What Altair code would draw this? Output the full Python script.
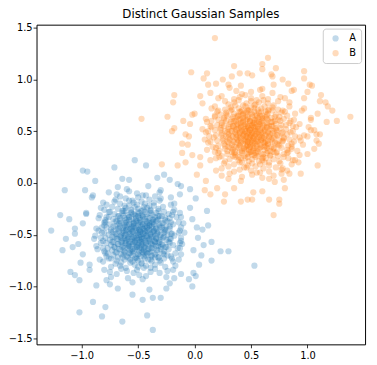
import altair as alt
import pandas as pd

# ---- data ----
# Cluster A core, by horizontal bands: (x values, y values)
a_bands = [
    ([-0.78, -0.55, -0.46, -0.22], [-0.94, -0.96, -0.93, -0.97]),
    ([-0.74, -0.69, -0.59, -0.49, -0.43, -0.31, -0.25], [-0.91, -0.88, -0.92, -0.89, -0.90, -0.87, -0.91]),
    ([-0.80, -0.75, -0.65, -0.60, -0.54, -0.51, -0.45, -0.39, -0.35, -0.24, -0.19],
     [-0.84, -0.86, -0.83, -0.85, -0.87, -0.84, -0.82, -0.86, -0.83, -0.85, -0.84]),
    ([-0.93, -0.74, -0.70, -0.66, -0.61, -0.57, -0.53, -0.50, -0.47, -0.43, -0.39, -0.35, -0.30, -0.26, -0.17],
     [-0.79, -0.81, -0.78, -0.80, -0.82, -0.77, -0.79, -0.81, -0.78, -0.80, -0.82, -0.79, -0.77, -0.81, -0.80]),
    ([-0.84, -0.81, -0.74, -0.69, -0.65, -0.62, -0.59, -0.55, -0.53, -0.50, -0.47, -0.44, -0.41, -0.38, -0.35, -0.31, -0.27, -0.19, -0.14],
     [-0.74, -0.76, -0.73, -0.75, -0.77, -0.74, -0.72, -0.76, -0.73, -0.75, -0.77, -0.73, -0.74, -0.76, -0.72, -0.75, -0.73, -0.76, -0.74]),
    ([-0.99, -0.78, -0.77, -0.72, -0.68, -0.65, -0.62, -0.60, -0.57, -0.55, -0.52, -0.50, -0.48, -0.45, -0.43, -0.40, -0.38, -0.35, -0.32, -0.28, -0.24, -0.21, -0.12],
     [-0.69, -0.71, -0.68, -0.70, -0.72, -0.69, -0.67, -0.71, -0.68, -0.70, -0.72, -0.69, -0.71, -0.68, -0.70, -0.67, -0.71, -0.69, -0.72, -0.68, -0.70, -0.71, -0.69]),
    ([-0.86, -0.80, -0.77, -0.73, -0.70, -0.67, -0.64, -0.62, -0.59, -0.57, -0.55, -0.53, -0.51, -0.49, -0.47, -0.45, -0.43, -0.41, -0.38, -0.36, -0.33, -0.30, -0.27, -0.23, -0.13, -0.01],
     [-0.64, -0.66, -0.63, -0.65, -0.67, -0.64, -0.62, -0.66, -0.63, -0.65, -0.67, -0.64, -0.62, -0.66, -0.63, -0.65, -0.67, -0.64, -0.66, -0.63, -0.65, -0.62, -0.66, -0.64, -0.63, -0.65]),
    ([-1.03, -0.87, -0.78, -0.74, -0.71, -0.68, -0.65, -0.63, -0.61, -0.59, -0.57, -0.55, -0.53, -0.51, -0.49, -0.47, -0.45, -0.43, -0.41, -0.39, -0.37, -0.35, -0.32, -0.29, -0.26, -0.22, -0.19, -0.11],
     [-0.59, -0.61, -0.58, -0.60, -0.62, -0.59, -0.57, -0.61, -0.58, -0.60, -0.62, -0.59, -0.57, -0.61, -0.58, -0.60, -0.62, -0.59, -0.61, -0.58, -0.60, -0.57, -0.61, -0.59, -0.62, -0.58, -0.60, -0.59]),
    ([-0.89, -0.81, -0.79, -0.75, -0.72, -0.69, -0.66, -0.64, -0.62, -0.60, -0.58, -0.56, -0.54, -0.53, -0.51, -0.49, -0.47, -0.46, -0.44, -0.42, -0.40, -0.38, -0.36, -0.34, -0.31, -0.28, -0.25, -0.21, -0.12, 0.03],
     [-0.54, -0.56, -0.53, -0.55, -0.57, -0.54, -0.52, -0.56, -0.53, -0.55, -0.57, -0.54, -0.52, -0.56, -0.53, -0.55, -0.57, -0.54, -0.56, -0.53, -0.55, -0.52, -0.56, -0.54, -0.57, -0.53, -0.55, -0.54, -0.56, -0.53]),
    ([-1.06, -0.88, -0.80, -0.76, -0.71, -0.70, -0.67, -0.65, -0.63, -0.61, -0.59, -0.57, -0.55, -0.52, -0.50, -0.48, -0.47, -0.45, -0.43, -0.41, -0.39, -0.37, -0.35, -0.33, -0.30, -0.27, -0.24, -0.20, -0.18, -0.09],
     [-0.49, -0.51, -0.48, -0.50, -0.52, -0.49, -0.47, -0.51, -0.48, -0.50, -0.52, -0.49, -0.47, -0.51, -0.48, -0.50, -0.52, -0.49, -0.51, -0.48, -0.50, -0.47, -0.51, -0.49, -0.52, -0.48, -0.50, -0.49, -0.51, -0.48]),
    ([-0.87, -0.85, -0.78, -0.74, -0.72, -0.68, -0.66, -0.63, -0.61, -0.60, -0.58, -0.56, -0.55, -0.52, -0.51, -0.49, -0.48, -0.46, -0.44, -0.42, -0.40, -0.38, -0.36, -0.34, -0.32, -0.29, -0.26, -0.22, -0.13, 0.02],
     [-0.44, -0.46, -0.43, -0.45, -0.47, -0.44, -0.42, -0.46, -0.43, -0.45, -0.47, -0.44, -0.42, -0.46, -0.43, -0.45, -0.47, -0.44, -0.46, -0.43, -0.45, -0.42, -0.46, -0.44, -0.47, -0.43, -0.45, -0.44, -0.46, -0.43]),
    ([-0.99, -0.80, -0.79, -0.75, -0.70, -0.67, -0.66, -0.62, -0.60, -0.58, -0.56, -0.54, -0.52, -0.50, -0.48, -0.46, -0.44, -0.42, -0.40, -0.38, -0.36, -0.34, -0.31, -0.28, -0.25, -0.21, -0.19, -0.10],
     [-0.39, -0.41, -0.38, -0.40, -0.42, -0.39, -0.37, -0.41, -0.38, -0.40, -0.42, -0.39, -0.37, -0.41, -0.38, -0.40, -0.42, -0.39, -0.41, -0.38, -0.40, -0.37, -0.41, -0.39, -0.42, -0.38, -0.40, -0.39]),
    ([-0.85, -0.79, -0.76, -0.72, -0.69, -0.66, -0.63, -0.61, -0.58, -0.56, -0.54, -0.52, -0.50, -0.48, -0.46, -0.44, -0.42, -0.40, -0.37, -0.35, -0.32, -0.29, -0.26, -0.22, -0.12, -0.02],
     [-0.34, -0.36, -0.33, -0.35, -0.37, -0.34, -0.32, -0.36, -0.33, -0.35, -0.37, -0.34, -0.32, -0.36, -0.33, -0.35, -0.37, -0.34, -0.36, -0.33, -0.35, -0.32, -0.36, -0.34, -0.33, -0.35]),
    ([-0.96, -0.84, -0.76, -0.71, -0.67, -0.64, -0.61, -0.59, -0.56, -0.54, -0.52, -0.49, -0.47, -0.44, -0.42, -0.39, -0.37, -0.34, -0.31, -0.27, -0.23, -0.20, -0.13],
     [-0.29, -0.31, -0.28, -0.30, -0.32, -0.29, -0.27, -0.31, -0.28, -0.30, -0.32, -0.29, -0.31, -0.28, -0.30, -0.27, -0.31, -0.29, -0.32, -0.28, -0.30, -0.31, -0.29]),
    ([-0.83, -0.80, -0.73, -0.68, -0.64, -0.61, -0.58, -0.56, -0.53, -0.50, -0.47, -0.45, -0.42, -0.39, -0.36, -0.32, -0.28, -0.18, -0.04],
     [-0.24, -0.26, -0.23, -0.25, -0.27, -0.24, -0.22, -0.26, -0.23, -0.25, -0.27, -0.23, -0.24, -0.26, -0.22, -0.25, -0.23, -0.26, -0.24]),
    ([-0.81, -0.78, -0.71, -0.66, -0.62, -0.58, -0.54, -0.51, -0.47, -0.44, -0.40, -0.36, -0.31, -0.21, -0.18],
     [-0.19, -0.21, -0.18, -0.20, -0.22, -0.17, -0.19, -0.21, -0.18, -0.20, -0.22, -0.19, -0.17, -0.21, -0.20]),
    ([-0.91, -0.70, -0.66, -0.61, -0.55, -0.50, -0.46, -0.40, -0.35, -0.30, -0.21],
     [-0.14, -0.16, -0.13, -0.15, -0.17, -0.14, -0.12, -0.16, -0.13, -0.15, -0.14]),
    ([-0.76, -0.69, -0.58, -0.51, -0.43, -0.31, -0.13], [-0.09, -0.11, -0.08, -0.10, -0.12, -0.09, -0.11]),
    ([-0.68, -0.60, -0.41, -0.30], [-0.04, -0.06, -0.03, -0.07]),
]

# Cluster A dense centre, by bands
a_inner = [
    ([-0.76, -0.64, -0.57, -0.51, -0.45, -0.39, -0.32, -0.20], [-0.73, -0.72, -0.74, -0.73, -0.71, -0.74, -0.72, -0.73]),
    ([-0.79, -0.69, -0.63, -0.58, -0.54, -0.50, -0.46, -0.42, -0.38, -0.33, -0.27, -0.17],
     [-0.68, -0.67, -0.69, -0.68, -0.66, -0.69, -0.67, -0.68, -0.70, -0.67, -0.69, -0.68]),
    ([-0.81, -0.71, -0.66, -0.62, -0.58, -0.55, -0.52, -0.49, -0.47, -0.44, -0.41, -0.38, -0.34, -0.30, -0.25, -0.15],
     [-0.63, -0.62, -0.64, -0.63, -0.61, -0.64, -0.62, -0.63, -0.65, -0.62, -0.64, -0.63, -0.61, -0.64, -0.62, -0.63]),
    ([-0.83, -0.73, -0.68, -0.64, -0.61, -0.58, -0.55, -0.53, -0.50, -0.48, -0.46, -0.43, -0.41, -0.38, -0.35, -0.32, -0.28, -0.23, -0.13],
     [-0.58, -0.57, -0.59, -0.58, -0.56, -0.59, -0.57, -0.58, -0.60, -0.57, -0.59, -0.58, -0.56, -0.59, -0.57, -0.58, -0.60, -0.57, -0.58]),
    ([-0.83, -0.73, -0.68, -0.65, -0.62, -0.59, -0.56, -0.54, -0.51, -0.49, -0.47, -0.45, -0.42, -0.40, -0.37, -0.34, -0.31, -0.27, -0.22, -0.12],
     [-0.53, -0.52, -0.54, -0.53, -0.51, -0.54, -0.52, -0.53, -0.55, -0.52, -0.54, -0.53, -0.51, -0.54, -0.52, -0.53, -0.55, -0.52, -0.54, -0.53]),
    ([-0.82, -0.74, -0.69, -0.64, -0.61, -0.58, -0.55, -0.53, -0.50, -0.48, -0.46, -0.44, -0.42, -0.39, -0.36, -0.33, -0.30, -0.26, -0.21, -0.14],
     [-0.48, -0.47, -0.49, -0.48, -0.46, -0.49, -0.47, -0.48, -0.50, -0.47, -0.49, -0.48, -0.46, -0.49, -0.47, -0.48, -0.50, -0.47, -0.49, -0.48]),
    ([-0.82, -0.72, -0.67, -0.63, -0.60, -0.57, -0.54, -0.52, -0.49, -0.47, -0.45, -0.42, -0.40, -0.37, -0.34, -0.31, -0.27, -0.22, -0.12],
     [-0.43, -0.42, -0.44, -0.43, -0.41, -0.44, -0.42, -0.43, -0.45, -0.42, -0.44, -0.43, -0.41, -0.44, -0.42, -0.43, -0.45, -0.42, -0.43]),
    ([-0.80, -0.70, -0.65, -0.61, -0.58, -0.54, -0.51, -0.49, -0.46, -0.43, -0.40, -0.37, -0.33, -0.29, -0.24, -0.14],
     [-0.38, -0.37, -0.39, -0.38, -0.36, -0.39, -0.37, -0.38, -0.40, -0.37, -0.39, -0.38, -0.36, -0.39, -0.37, -0.38]),
    ([-0.78, -0.68, -0.62, -0.58, -0.53, -0.49, -0.46, -0.42, -0.37, -0.32, -0.26, -0.16],
     [-0.33, -0.32, -0.34, -0.33, -0.31, -0.34, -0.32, -0.33, -0.35, -0.32, -0.34, -0.33]),
    ([-0.75, -0.63, -0.56, -0.50, -0.45, -0.39, -0.32, -0.19], [-0.28, -0.27, -0.29, -0.28, -0.26, -0.29, -0.27, -0.28]),
]

# Cluster A scattered outer points
a_tail = [
    (-1.27, -0.46), (-1.19, -0.31), (-1.15, -0.07), (-1.17, -0.65), (-0.99, 0.12), (-0.95, 0.11),
    (-0.88, 0.02), (-0.97, -0.07), (-0.71, 0.15), (-0.53, 0.22), (-0.43, 0.17), (-1.02, -1.25),
    (-0.90, -1.15), (-0.79, -1.20), (-0.82, -1.29), (-0.64, -1.34), (-0.42, -1.28), (-0.37, -1.42),
    (-0.46, -1.13), (-0.37, -1.11), (-0.30, -1.11), (0.53, -0.80), (0.23, -0.66), (0.30, -0.66),
    (0.15, -0.75), (0.15, -0.57), (0.11, -0.27), (0.04, -0.79), (-0.02, -1.00), (0.01, -0.90),
    (-0.01, -0.87), (-0.04, -0.06), (0.01, -0.15), (-0.15, -0.01), (-0.27, 0.08), (-1.10, -0.86),
    (-1.06, -0.89), (-1.02, -0.94), (-1.01, -0.77), (-1.14, -0.54), (-1.11, -0.35), (-0.64, 0.04),
    (-0.58, 0.03), (-0.33, 0.05), (-0.22, 0.03), (-0.12, -0.03), (0.12, -0.41), (0.07, -0.45),
    (-0.05, -0.93), (-0.25, -1.02), (-0.55, -1.08), (-0.68, -1.02), (-0.75, -0.98), (-0.87, -0.99),
    (-0.93, -0.84), (-1.08, -0.62), (-1.06, -0.44), (-0.96, -0.30), (-0.90, -0.12), (0.08, -0.60),
    (0.06, -0.70), (-0.18, -0.92), (-0.40, -1.03), (-0.12, -0.88),
]

# Cluster B core, by horizontal bands: (x values, y values)
b_bands = [
    ([0.30, 0.41, 0.60, 0.71], [0.04, 0.02, 0.05, 0.01]),
    ([0.24, 0.31, 0.42, 0.51, 0.58, 0.70, 0.77], [0.07, 0.09, 0.06, 0.08, 0.10, 0.07, 0.09]),
    ([0.19, 0.24, 0.35, 0.40, 0.46, 0.50, 0.55, 0.61, 0.66, 0.77, 0.82],
     [0.12, 0.14, 0.11, 0.13, 0.15, 0.12, 0.10, 0.14, 0.11, 0.13, 0.12]),
    ([0.05, 0.26, 0.30, 0.35, 0.40, 0.44, 0.47, 0.51, 0.54, 0.58, 0.62, 0.66, 0.72, 0.76, 0.86],
     [0.17, 0.19, 0.16, 0.18, 0.20, 0.15, 0.17, 0.19, 0.16, 0.18, 0.20, 0.17, 0.15, 0.19, 0.18]),
    ([0.14, 0.19, 0.27, 0.31, 0.36, 0.39, 0.42, 0.45, 0.48, 0.51, 0.54, 0.57, 0.60, 0.63, 0.66, 0.70, 0.75, 0.83, 0.89],
     [0.22, 0.24, 0.21, 0.23, 0.25, 0.22, 0.20, 0.24, 0.21, 0.23, 0.25, 0.21, 0.22, 0.24, 0.20, 0.23, 0.21, 0.24, 0.22]),
    ([-0.02, 0.21, 0.24, 0.29, 0.33, 0.36, 0.39, 0.42, 0.44, 0.47, 0.49, 0.51, 0.54, 0.56, 0.59, 0.61, 0.64, 0.67, 0.70, 0.74, 0.79, 0.82, 0.93],
     [0.27, 0.29, 0.26, 0.28, 0.30, 0.27, 0.25, 0.29, 0.26, 0.28, 0.30, 0.27, 0.29, 0.26, 0.28, 0.25, 0.29, 0.27, 0.30, 0.26, 0.28, 0.29, 0.27]),
    ([0.11, 0.19, 0.22, 0.27, 0.30, 0.34, 0.36, 0.39, 0.42, 0.44, 0.46, 0.48, 0.50, 0.53, 0.55, 0.57, 0.59, 0.62, 0.64, 0.67, 0.70, 0.73, 0.77, 0.82, 0.91, 1.06],
     [0.32, 0.34, 0.31, 0.33, 0.35, 0.32, 0.30, 0.34, 0.31, 0.33, 0.35, 0.32, 0.30, 0.34, 0.31, 0.33, 0.35, 0.32, 0.34, 0.31, 0.33, 0.30, 0.34, 0.32, 0.31, 0.33]),
    ([-0.06, 0.12, 0.21, 0.26, 0.29, 0.33, 0.35, 0.38, 0.40, 0.43, 0.45, 0.47, 0.49, 0.51, 0.52, 0.54, 0.56, 0.58, 0.61, 0.63, 0.65, 0.68, 0.71, 0.74, 0.78, 0.83, 0.86, 0.96],
     [0.37, 0.39, 0.36, 0.38, 0.40, 0.37, 0.35, 0.39, 0.36, 0.38, 0.40, 0.37, 0.35, 0.39, 0.36, 0.38, 0.40, 0.37, 0.39, 0.36, 0.38, 0.35, 0.39, 0.37, 0.40, 0.36, 0.38, 0.37]),
    ([0.09, 0.17, 0.20, 0.25, 0.28, 0.31, 0.34, 0.37, 0.39, 0.41, 0.43, 0.45, 0.47, 0.49, 0.50, 0.52, 0.53, 0.55, 0.57, 0.59, 0.61, 0.63, 0.66, 0.68, 0.71, 0.75, 0.79, 0.84, 0.93, 1.08],
     [0.42, 0.44, 0.41, 0.43, 0.45, 0.42, 0.40, 0.44, 0.41, 0.43, 0.45, 0.42, 0.40, 0.44, 0.41, 0.43, 0.45, 0.42, 0.44, 0.41, 0.43, 0.40, 0.44, 0.42, 0.45, 0.41, 0.43, 0.42, 0.44, 0.41]),
    ([-0.08, 0.10, 0.19, 0.24, 0.27, 0.30, 0.33, 0.36, 0.38, 0.40, 0.42, 0.44, 0.46, 0.48, 0.49, 0.51, 0.53, 0.54, 0.56, 0.58, 0.60, 0.62, 0.65, 0.67, 0.70, 0.73, 0.77, 0.82, 0.85, 0.97],
     [0.47, 0.49, 0.46, 0.48, 0.50, 0.47, 0.45, 0.49, 0.46, 0.48, 0.50, 0.47, 0.45, 0.49, 0.46, 0.48, 0.50, 0.47, 0.49, 0.46, 0.48, 0.45, 0.49, 0.47, 0.50, 0.46, 0.48, 0.47, 0.49, 0.46]),
    ([0.07, 0.15, 0.18, 0.23, 0.26, 0.30, 0.32, 0.35, 0.37, 0.39, 0.41, 0.44, 0.45, 0.47, 0.49, 0.50, 0.52, 0.54, 0.56, 0.58, 0.60, 0.62, 0.64, 0.67, 0.69, 0.72, 0.76, 0.81, 0.90, 1.06],
     [0.52, 0.54, 0.51, 0.53, 0.55, 0.52, 0.50, 0.54, 0.51, 0.53, 0.55, 0.52, 0.50, 0.54, 0.51, 0.53, 0.55, 0.52, 0.54, 0.51, 0.53, 0.50, 0.54, 0.52, 0.55, 0.51, 0.53, 0.52, 0.54, 0.51]),
    ([-0.04, 0.11, 0.20, 0.24, 0.28, 0.31, 0.34, 0.37, 0.39, 0.41, 0.43, 0.45, 0.47, 0.49, 0.51, 0.53, 0.55, 0.57, 0.59, 0.61, 0.64, 0.66, 0.69, 0.72, 0.76, 0.81, 0.84, 0.93],
     [0.57, 0.59, 0.56, 0.58, 0.60, 0.57, 0.55, 0.59, 0.56, 0.58, 0.60, 0.57, 0.55, 0.59, 0.56, 0.58, 0.60, 0.57, 0.59, 0.56, 0.58, 0.55, 0.59, 0.57, 0.60, 0.56, 0.58, 0.57]),
    ([0.10, 0.18, 0.21, 0.26, 0.29, 0.33, 0.35, 0.38, 0.41, 0.43, 0.45, 0.47, 0.49, 0.51, 0.53, 0.56, 0.58, 0.60, 0.63, 0.65, 0.68, 0.71, 0.75, 0.79, 0.88, 1.03],
     [0.62, 0.64, 0.61, 0.63, 0.65, 0.62, 0.60, 0.64, 0.61, 0.63, 0.65, 0.62, 0.60, 0.64, 0.61, 0.63, 0.65, 0.62, 0.64, 0.61, 0.63, 0.60, 0.64, 0.62, 0.61, 0.63]),
    ([0.00, 0.20, 0.23, 0.28, 0.32, 0.35, 0.38, 0.41, 0.43, 0.46, 0.48, 0.50, 0.53, 0.55, 0.57, 0.60, 0.63, 0.65, 0.69, 0.72, 0.77, 0.80, 0.89],
     [0.67, 0.69, 0.66, 0.68, 0.70, 0.67, 0.65, 0.69, 0.66, 0.68, 0.70, 0.67, 0.69, 0.66, 0.68, 0.65, 0.69, 0.67, 0.70, 0.66, 0.68, 0.69, 0.67]),
    ([0.15, 0.18, 0.27, 0.32, 0.36, 0.39, 0.42, 0.45, 0.47, 0.50, 0.53, 0.56, 0.59, 0.62, 0.65, 0.69, 0.74, 0.84, 0.97],
     [0.72, 0.74, 0.71, 0.73, 0.75, 0.72, 0.70, 0.74, 0.71, 0.73, 0.75, 0.71, 0.72, 0.74, 0.70, 0.73, 0.71, 0.74, 0.72]),
    ([0.07, 0.27, 0.30, 0.35, 0.39, 0.43, 0.46, 0.50, 0.54, 0.57, 0.61, 0.65, 0.70, 0.74, 0.84],
     [0.77, 0.79, 0.76, 0.78, 0.80, 0.75, 0.77, 0.79, 0.76, 0.78, 0.80, 0.77, 0.75, 0.79, 0.78]),
    ([0.21, 0.24, 0.35, 0.40, 0.45, 0.50, 0.55, 0.60, 0.65, 0.76, 0.80],
     [0.82, 0.84, 0.81, 0.83, 0.85, 0.82, 0.80, 0.84, 0.81, 0.83, 0.82]),
    ([0.14, 0.37, 0.42, 0.50, 0.58, 0.69, 0.86], [0.87, 0.89, 0.86, 0.88, 0.90, 0.87, 0.89]),
    ([0.31, 0.41, 0.60, 0.70], [0.92, 0.94, 0.91, 0.95]),
]

# Cluster B dense centre, by bands
b_inner = [
    ([0.22, 0.34, 0.41, 0.47, 0.53, 0.60, 0.67, 0.79], [0.25, 0.26, 0.24, 0.25, 0.27, 0.24, 0.26, 0.25]),
    ([0.18, 0.29, 0.35, 0.40, 0.44, 0.48, 0.52, 0.56, 0.61, 0.65, 0.72, 0.83],
     [0.30, 0.31, 0.29, 0.30, 0.32, 0.29, 0.31, 0.30, 0.28, 0.31, 0.29, 0.30]),
    ([0.16, 0.27, 0.32, 0.37, 0.40, 0.44, 0.47, 0.49, 0.52, 0.55, 0.58, 0.62, 0.65, 0.70, 0.75, 0.86],
     [0.35, 0.36, 0.34, 0.35, 0.37, 0.34, 0.36, 0.35, 0.33, 0.36, 0.34, 0.35, 0.37, 0.34, 0.36, 0.35]),
    ([0.14, 0.25, 0.30, 0.35, 0.38, 0.41, 0.44, 0.47, 0.49, 0.51, 0.53, 0.56, 0.59, 0.62, 0.65, 0.69, 0.73, 0.78, 0.88],
     [0.40, 0.41, 0.39, 0.40, 0.42, 0.39, 0.41, 0.40, 0.38, 0.41, 0.39, 0.40, 0.42, 0.39, 0.41, 0.40, 0.38, 0.41, 0.40]),
    ([0.13, 0.24, 0.30, 0.34, 0.37, 0.40, 0.43, 0.46, 0.48, 0.50, 0.52, 0.55, 0.57, 0.60, 0.63, 0.66, 0.70, 0.74, 0.79, 0.89],
     [0.45, 0.46, 0.44, 0.45, 0.47, 0.44, 0.46, 0.45, 0.43, 0.46, 0.44, 0.45, 0.47, 0.44, 0.46, 0.45, 0.43, 0.46, 0.44, 0.45]),
    ([0.12, 0.23, 0.29, 0.33, 0.37, 0.40, 0.42, 0.45, 0.47, 0.49, 0.51, 0.54, 0.56, 0.59, 0.62, 0.65, 0.69, 0.73, 0.78, 0.87],
     [0.50, 0.51, 0.49, 0.50, 0.52, 0.49, 0.51, 0.50, 0.48, 0.51, 0.49, 0.50, 0.52, 0.49, 0.51, 0.50, 0.48, 0.51, 0.49, 0.50]),
    ([0.14, 0.24, 0.30, 0.34, 0.38, 0.41, 0.44, 0.46, 0.48, 0.51, 0.53, 0.56, 0.58, 0.61, 0.64, 0.68, 0.72, 0.77, 0.87],
     [0.55, 0.56, 0.54, 0.55, 0.57, 0.54, 0.56, 0.55, 0.53, 0.56, 0.54, 0.55, 0.57, 0.54, 0.56, 0.55, 0.53, 0.56, 0.55]),
    ([0.15, 0.26, 0.32, 0.36, 0.40, 0.43, 0.46, 0.49, 0.52, 0.54, 0.57, 0.60, 0.64, 0.68, 0.74, 0.85],
     [0.60, 0.61, 0.59, 0.60, 0.62, 0.59, 0.61, 0.60, 0.58, 0.61, 0.59, 0.60, 0.62, 0.59, 0.61, 0.60]),
    ([0.18, 0.28, 0.34, 0.39, 0.43, 0.47, 0.51, 0.55, 0.60, 0.64, 0.71, 0.82],
     [0.65, 0.66, 0.64, 0.65, 0.67, 0.64, 0.66, 0.65, 0.63, 0.66, 0.64, 0.65]),
    ([0.21, 0.33, 0.40, 0.47, 0.53, 0.59, 0.66, 0.78], [0.70, 0.71, 0.69, 0.70, 0.72, 0.69, 0.71, 0.70]),
]

# Cluster B scattered outer points
b_tail = [
    (0.18, 1.40), (-0.47, 0.62), (-0.29, 0.18), (-0.03, 1.07), (0.11, 1.06), (0.08, 1.01), (-0.18, 0.85),
    (-0.19, 0.78), (-0.24, 0.64), (-0.18, 0.53), (-0.11, 0.38), (-0.11, 0.29), (-0.15, 0.17), (-0.08, 0.20),
    (0.02, 0.08), (0.10, 0.02), (0.09, -0.07), (0.14, -0.11), (0.26, -0.18), (0.27, -0.11), (0.41, -0.18),
    (0.47, -0.16), (0.51, -0.16), (0.52, -0.09), (0.66, -0.16), (0.75, -0.16), (0.70, -0.31), (0.75, -0.20),
    (0.80, -0.05), (0.84, 0.09), (0.94, 0.09), (1.00, 0.28), (1.09, 0.17), (1.10, 0.38), (1.11, 0.47),
    (1.08, 0.47), (1.17, 0.59), (1.26, 0.60), (1.38, 0.64), (1.22, 0.70), (1.18, 0.74), (1.16, 0.78),
    (1.11, 0.79), (1.12, 0.85), (1.02, 0.95), (1.04, 0.94), (0.97, 1.08), (0.97, 1.01), (0.83, 0.96),
    (0.72, 1.11), (0.65, 1.21), (0.60, 1.15), (0.60, 1.10), (0.35, 1.13), (0.40, 1.06), (0.33, 1.03),
    (0.47, 1.06), (0.51, 1.04), (0.68, 1.05), (0.69, 1.03), (0.19, 0.96), (1.00, 0.88), (0.97, 0.82),
    (1.09, 0.67), (1.03, 0.61), (1.01, 0.54), (1.03, 0.51), (1.00, 0.45), (0.94, 0.41), (0.92, 0.20),
    (0.87, 0.22), (0.86, 0.33), (0.78, 0.14), (0.79, 0.03), (0.66, 0.04), (-0.05, 0.45), (-0.02, 0.66),
    (0.05, 0.84), (0.12, 0.95), (0.25, 1.00), (0.30, 0.95), (0.78, 1.00), (0.88, 0.90), (0.95, 0.70),
    (0.20, -0.05), (0.35, -0.05), (0.60, -0.08), (-0.20, 0.50), (-0.10, 0.60), (0.05, 0.25),
]

series_names = ["A", "B"]
series_colors = ["#1f77b4", "#ff7f0e"]
x_ticks = [-1.0, -0.5, 0.0, 0.5, 1.0]
y_ticks = [-1.5, -1.0, -0.5, 0.0, 0.5, 1.0, 1.5]
x_domain = [-1.40, 1.51]
y_domain = [-1.56, 1.53]

rows = []
for name, bands, tail in (("A", a_bands + a_inner, a_tail), ("B", b_bands + b_inner, b_tail)):
    for xs, ys in bands:
        rows += [{"x": x, "y": y, "s": name} for x, y in zip(xs, ys)]
    rows += [{"x": x, "y": y, "s": name} for x, y in tail]
df = pd.DataFrame(rows)
df["order"] = range(len(df))

FONT = "DejaVu Sans"
ALPHA = 0.28

chart = alt.Chart(df).mark_circle(size=40, opacity=ALPHA).encode(
    x=alt.X("x:Q", title="",
            scale=alt.Scale(domain=x_domain, nice=False, zero=False),
            axis=alt.Axis(values=x_ticks, format=".1f", labelPadding=3)),
    y=alt.Y("y:Q", title="",
            scale=alt.Scale(domain=y_domain, nice=False, zero=False),
            axis=alt.Axis(values=y_ticks, format=".1f", labelPadding=1)),
    color=alt.Color("s:N",
                    scale=alt.Scale(domain=series_names, range=series_colors),
                    legend=alt.Legend(title=None, orient="top-right", offset=4,
                                      padding=5, symbolType="circle", symbolSize=40,
                                      symbolOpacity=ALPHA, symbolOffset=3, labelOffset=9,
                                      rowPadding=5, labelFont=FONT, labelFontSize=10,
                                      labelColor="black", strokeColor="#cccccc",
                                      fillColor="white", cornerRadius=3)),
    order="order:Q",
).properties(
    width=334, height=325,
    title=alt.Title("Distinct Gaussian Samples", font=FONT, fontSize=12,
                    fontWeight="normal", color="black", offset=2),
    autosize=alt.AutoSizeParams(type="none"),
    padding={"left": 29, "top": 14, "right": 4, "bottom": 16},
).configure_view(
    stroke="black", strokeWidth=1
).configure_axis(
    domain=False, grid=False, tickColor="black", tickSize=3.5, tickWidth=0.8,
    labelFont=FONT, labelFontSize=10, labelColor="black"
)

chart.save("out.html", embed_options={"renderer": "svg", "actions": False})
